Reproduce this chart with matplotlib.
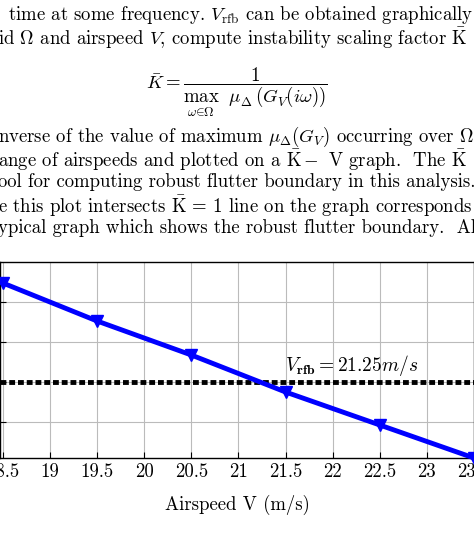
import matplotlib
matplotlib.use("Agg")
import matplotlib.pyplot as plt

airspeed = [18.5, 19.5, 20.5, 21.5, 22.5, 23.5]
kbar = [1.2475, 1.1525, 1.0675, 0.975, 0.8925, 0.81]
xticks = [18.5, 19, 19.5, 20, 20.5, 21, 21.5, 22, 22.5, 23, 23.5]
xticklabels = ["18.5", "19", "19.5", "20", "20.5", "21", "21.5", "22", "22.5", "23", "23.5"]
yticks = [0.9, 1.0, 1.1, 1.2]

plt.rcParams['font.family'] = 'cmr10'
plt.rcParams['mathtext.fontset'] = 'cm'
plt.rcParams['axes.formatter.use_mathtext'] = True

W, H = 474, 536
fig = plt.figure(figsize=(W/100, H/100), dpi=100)

def T(x, y, s, **kw):
    fig.text(x/W, 1 - y/H, s, fontsize=13.5, va='center', **kw)

T(8, 15, r"time at some frequency. $V_{\mathrm{rfb}}$ can be obtained graphically a")
T(-2, 38, r"id $\boldsymbol{\Omega}$ and airspeed $V$, compute instability scaling factor $\bar{\mathrm{K}}$")
T(237, 92, r"$\bar{K} = \dfrac{1}{\max_{\omega\in\boldsymbol{\Omega}}\ \ \mu_\Delta(G_V(i\omega))}$", ha='center')
T(-2, 137, r"nverse of the value of maximum $\mu_\Delta(G_V)$ occurring over $\boldsymbol{\Omega}$")
T(-2, 160, r"ange of airspeeds and plotted on a $\bar{\mathrm{K}}-$ V graph.  The $\bar{\mathrm{K}}$")
T(-2, 182, r"ool for computing robust flutter boundary in this analysis.")
T(-2, 205, r"e this plot intersects $\bar{\mathrm{K}}$ = 1 line on the graph corresponds")
T(-2, 228, r"ypical graph which shows the robust flutter boundary.  Alt")

ax = fig.add_axes([0/W, 1 - 458/H, 474/W, (458-262)/H])
ax.plot(airspeed, kbar, color='#0000ff', lw=3.5, marker='v', ms=8, clip_on=False, zorder=3)
ax.axhline(1.0, color='black', lw=3.5, ls=(0, (1.2, 0.6)), zorder=2)
ax.text(22.2, 1.01, r"$V_{\mathbf{rfb}} = 21.25m/s$", fontsize=14, ha='center', va='bottom')
ax.set_xlim(18.47, 23.45)
ax.set_ylim(0.81, 1.3)
ax.set_xticks(xticks)
ax.set_xticklabels(xticklabels, fontsize=13.5)
ax.set_yticks(yticks)
ax.set_yticklabels([])
ax.grid(True, color='#bbbbbb', lw=0.8)
ax.tick_params(direction='in', length=4)
ax.set_xlabel("Airspeed V (m/s)", fontsize=13.5, labelpad=10)
for s in ax.spines.values():
    s.set_linewidth(1)
fig.savefig("out.png", dpi=100)
